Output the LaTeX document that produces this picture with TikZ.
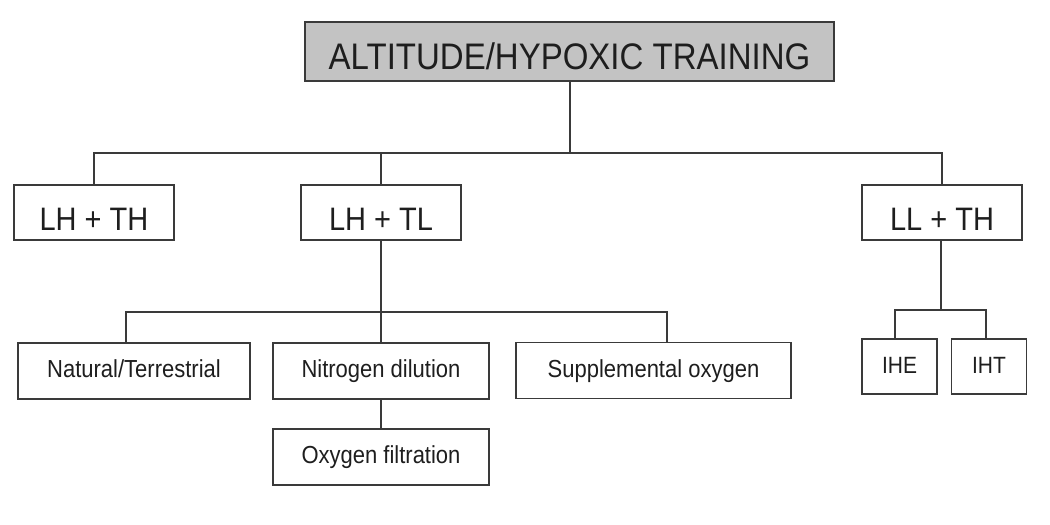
\documentclass[tikz,border=0pt]{standalone}
\usepackage{fontspec}
\setmainfont{Liberation Sans}
\definecolor{linec}{HTML}{3A3A3A}
\definecolor{textc}{HTML}{1E1E1E}
\definecolor{titlefill}{HTML}{C3C3C3}
\newcommand{\vst}[1]{\scalebox{1}[1.12]{#1}}
\begin{document}
\begin{tikzpicture}[x=1pt,y=-1pt,
  boxbase/.style={draw=linec,line width=1.8pt,rectangle,inner sep=0pt,text=textc,anchor=center},
  titlebox/.style={boxbase,fill=titlefill,minimum width=529pt,minimum height=59pt,
    font=\fontsize{33}{36}\selectfont,text height=36.4pt,text depth=0pt},
  midbox/.style={boxbase,fill=white,minimum width=160pt,minimum height=55pt,
    font=\fontsize{29}{32}\selectfont,text height=35.2pt,text depth=0pt},
  smallbox/.style={boxbase,fill=white,minimum height=56pt,
    font=\fontsize{22}{25}\selectfont,text height=17.6pt,text depth=4pt},
  tinybox/.style={boxbase,fill=white,minimum width=75pt,minimum height=55pt,
    font=\fontsize{21}{24}\selectfont,text height=17pt,text depth=3.2pt},
  conn/.style={draw=linec,line width=1.8pt}]
\fill[white] (0,0) rectangle (1050,525);
\useasboundingbox (0,0) rectangle (1050,525);

% nodes
\node[titlebox] (top) at (569.5,51.5) {\vst{ALTITUDE/HYPOXIC TRAINING}};
\node[midbox] (lhth) at (94,212.5) {\vst{LH + TH}};
\node[midbox] (lhtl) at (381,212.5) {\vst{LH + TL}};
\node[midbox] (llth) at (942,212.5) {\vst{LL + TH}};
\node[smallbox,minimum width=232pt] (nat) at (134,371) {\vst{Natural/Terrestrial}};
\node[smallbox,minimum width=216pt] (nit) at (381,371) {\vst{Nitrogen dilution}};
\node[smallbox,minimum width=275pt] (sup) at (653.5,370.5) {\vst{Supplemental oxygen}};
\node[smallbox,minimum width=216pt] (oxf) at (381,457) {\vst{Oxygen filtration}};
\node[tinybox] (ihe) at (899.5,366.5) {\vst{IHE}};
\node[tinybox] (iht) at (989,366.5) {\vst{IHT}};

% junction coordinates
\coordinate (b1) at (570,153);
\coordinate (b2) at (382,312);
\coordinate (b3) at (941,310);
\coordinate (natin) at (126,343);
\coordinate (supin) at (667,342.5);
\coordinate (ihein) at (895,339);
\coordinate (ihtin) at (986,339);

% level 1
\draw[conn] (top.south -| b1) -- (b1);
\draw[conn] (lhth.north) -- (lhth.north |- b1) -- (llth.north |- b1) -- (llth.north);
\draw[conn] (lhtl.north) -- (lhtl.north |- b1);

% level 2
\draw[conn] (lhtl.south) -- (nit.north);
\draw[conn] (natin) -- (natin |- b2) -- (supin |- b2) -- (supin);
\draw[conn] (nit.south) -- (oxf.north);

% level 3
\draw[conn] (llth.south -| b3) -- (b3);
\draw[conn] (ihein) -- (ihein |- b3) -- (ihtin |- b3) -- (ihtin);
\end{tikzpicture}
\end{document}
